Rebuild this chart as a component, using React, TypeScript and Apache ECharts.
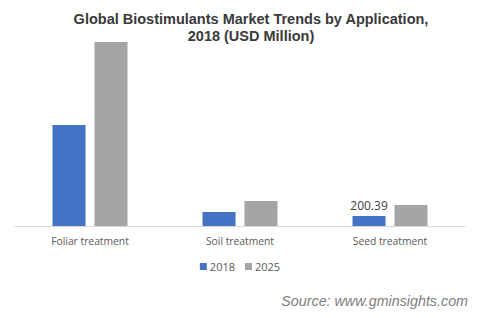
import React, { useEffect, useRef } from "react";
import * as echarts from "echarts";

const categories = ["Foliar treatment", "Soil treatment", "Seed treatment"];
const seriesNames = ["2018", "2025"];
const values2018 = [2020, 280, 200.39];
const values2025 = [3680, 500, 420];
const labelIndex = 2;

export default function App() {
  const ref = useRef<HTMLDivElement>(null);
  useEffect(() => {
    if (!ref.current) return;
    const chart = echarts.init(ref.current, null, { renderer: "svg" });
    chart.setOption({
      animation: false,
      backgroundColor: "#ffffff",
      title: {
        text: "Global Biostimulants Market Trends by Application,\n2018 (USD Million)",
        left: 246,
        textAlign: "center",
        top: 5,
        textStyle: {
          fontFamily: "Liberation Sans, Arial, sans-serif",
          fontWeight: "bold",
          fontSize: 14.5,
          lineHeight: 17,
          color: "#3a3a3a",
        },
      },
      graphic: [
        {
          type: "text",
          right: 12,
          top: 294,
          style: {
            text: "Source: www.gminsights.com",
            font: "italic 14.3px 'Liberation Sans', Arial, sans-serif",
            fill: "#808080",
          },
        },
      ],
      legend: {
        bottom: 41,
        left: "center",
        itemWidth: 7,
        itemHeight: 7,
        itemGap: 10,
        icon: "rect",
        textStyle: {
          fontFamily: "'Open Sans', sans-serif",
          fontSize: 11,
          color: "#595959",
          padding: [0, 0, 0, -2],
        },
        data: seriesNames,
      },
      grid: { left: 15, right: 15, top: 26, bottom: 92 },
      xAxis: {
        type: "category",
        data: categories,
        axisLine: { lineStyle: { color: "#d9d9d9", width: 1 } },
        axisTick: { show: false },
        axisLabel: {
          fontFamily: "'Open Sans', sans-serif",
          fontSize: 10.3,
          color: "#595959",
          margin: 10,
        },
      },
      yAxis: {
        type: "value",
        min: 0,
        max: 4000,
        show: false,
        splitLine: { show: false },
      },
      series: [
        {
          name: seriesNames[0],
          type: "bar",
          data: values2018.map((v, i) =>
            i === labelIndex
              ? {
                  value: v,
                  label: {
                    show: true,
                    position: "top",
                    distance: 4,
                    formatter: "200.39",
                    fontFamily: "'Open Sans', sans-serif",
                    fontSize: 12,
                    color: "#404040",
                  },
                }
              : v
          ),
          itemStyle: { color: "#4472C4" },
          barGap: "27%",
          barCategoryGap: "50%",
        },
        {
          name: seriesNames[1],
          type: "bar",
          data: values2025,
          itemStyle: { color: "#A5A5A5" },
        },
      ],
    });
    return () => chart.dispose();
  }, []);
  return <div ref={ref} style={{ width: 480, height: 318, margin: -8 }} />;
}
